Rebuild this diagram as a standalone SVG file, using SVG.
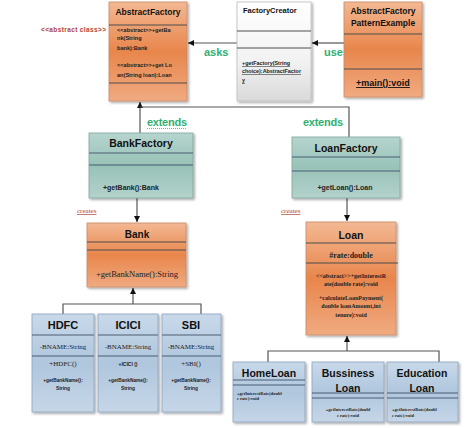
<svg xmlns="http://www.w3.org/2000/svg" width="474" height="428" viewBox="0 0 474 428">
<defs>
<linearGradient id="gOr" x1="0" y1="0" x2="0" y2="1">
<stop offset="0" stop-color="#f3b893"/><stop offset="0.5" stop-color="#e8864c"/><stop offset="1" stop-color="#f0aa80"/>
</linearGradient>
<linearGradient id="gWh" x1="0" y1="0" x2="0" y2="1">
<stop offset="0" stop-color="#ffffff"/><stop offset="0.6" stop-color="#f2f2f2"/><stop offset="1" stop-color="#d9d9d9"/>
</linearGradient>
<linearGradient id="gTe" x1="0" y1="0" x2="0" y2="1">
<stop offset="0" stop-color="#b6d5ce"/><stop offset="0.5" stop-color="#98c2b8"/><stop offset="1" stop-color="#b3d2cb"/>
</linearGradient>
<linearGradient id="gBl" x1="0" y1="0" x2="0" y2="1">
<stop offset="0" stop-color="#c9d9ea"/><stop offset="0.5" stop-color="#afc6dd"/><stop offset="1" stop-color="#c6d6e7"/>
</linearGradient>
<filter id="sh" x="-10%" y="-10%" width="125%" height="125%">
<feDropShadow dx="1.5" dy="1.5" stdDeviation="1.2" flood-color="#000" flood-opacity="0.35"/>
</filter>
<marker id="arr" viewBox="0 0 10 10" refX="10" refY="5" markerWidth="5" markerHeight="5" orient="auto-start-reverse">
<path d="M0,0 L10,5 L0,10 z" fill="#111"/>
</marker>
</defs>
<style>
.or{fill:url(#gOr);stroke:#c98a66;stroke-width:0.8;filter:url(#sh)}
.wh{fill:url(#gWh);stroke:#bdbdbd;stroke-width:0.8;filter:url(#sh)}
.te{fill:url(#gTe);stroke:#7fa59c;stroke-width:0.8;filter:url(#sh)}
.bl{fill:url(#gBl);stroke:#8aa3bd;stroke-width:0.8;filter:url(#sh)}
.dv{stroke:#4d4d4d;stroke-width:1}
.dvb{stroke:#4a5e72;stroke-width:1.2}
.t{font-family:"Liberation Sans",Arial,sans-serif;font-weight:bold;fill:#111}
.s{font-family:"Liberation Serif","Times New Roman",serif;fill:#222}
.m{font-family:"Liberation Sans",Arial,sans-serif;font-weight:bold;fill:#222}
.gr{font-family:"Liberation Sans",Arial,sans-serif;font-weight:bold;fill:#2fb071;font-size:11px}
.cr{font-family:"Liberation Serif","Times New Roman",serif;fill:#b0453a;font-size:7px;text-decoration:underline}
.ln{fill:none;stroke:#555;stroke-width:1.2}
</style>

<g id="labels">
<text x="41" y="32" font-size="6.5" class="t" fill="#b0453a" style="fill:#b0453a" textLength="65">&lt;&lt;abstract class&gt;&gt;</text>
<text x="204" y="56" class="gr">asks</text>
<text x="324" y="56" class="gr">uses</text>
<text x="147" y="126" class="gr" font-size="10.5" textLength="40">extends</text>
<line x1="147" y1="128.5" x2="187" y2="128.5" stroke="#2fb071" stroke-width="0.8" stroke-dasharray="1,1"/>
<text x="303" y="126" class="gr" font-size="10.5" textLength="40">extends</text>
<text x="77" y="213" class="cr">creates</text>
<text x="281" y="213" class="cr">creates</text>
</g>

<g id="connectors">
<line x1="237" y1="43" x2="188" y2="43" class="ln" stroke="#444" marker-end="url(#arr)"/>
<line x1="344" y1="43" x2="312" y2="43" class="ln" marker-end="url(#arr)"/>
<line x1="140" y1="133" x2="140" y2="102" class="ln" marker-end="url(#arr)"/>
<polyline points="140,107 349,107 349,137" class="ln"/>
<line x1="137" y1="198" x2="137" y2="222" class="ln" stroke="#222" marker-end="url(#arr)"/>
<line x1="347" y1="198" x2="347" y2="221" class="ln" stroke="#222" marker-end="url(#arr)"/>
<line x1="133" y1="304" x2="133" y2="288" class="ln" marker-end="url(#arr)"/>
<polyline points="63,314 63,304 201,304 201,314" class="ln"/>
<line x1="347" y1="351" x2="347" y2="336" class="ln" marker-end="url(#arr)"/>
<polyline points="268,362 268,351 439,351 439,362" class="ln"/>
</g>

<g id="AbstractFactory">
<rect x="109" y="2" width="78" height="99" class="or"/>
<line x1="109" y1="25" x2="187" y2="25" class="dv"/>
<line x1="109" y1="83" x2="187" y2="83" class="dv"/>
<text x="148" y="15" font-size="8.5" class="t" text-anchor="middle">AbstractFactory</text>
<g class="m" font-size="5.6">
<text x="117" y="32">&lt;&lt;abstract&gt;&gt;+getBa</text>
<text x="117" y="40">nk(String</text>
<text x="117" y="50">bank):Bank</text>
<text x="117" y="67">&lt;&lt;abstract&gt;&gt;+get Lo</text>
<text x="117" y="77">an(String loan):Loan</text>
</g>
</g>

<g id="FactoryCreator">
<rect x="237" y="2" width="74" height="99" class="wh"/>
<line x1="237" y1="31" x2="311" y2="31" class="dv"/>
<line x1="237" y1="48" x2="311" y2="48" class="dv"/>
<text x="243" y="13" font-size="7.5" class="t">FactoryCreator</text>
<g class="m" font-size="5.4" text-decoration="underline">
<text x="242" y="65">+getFactory(String</text>
<text x="242" y="73">choice):AbstractFactor</text>
<text x="242" y="82">y</text>
</g>
</g>

<g id="AbstractFactoryPatternExample">
<rect x="344" y="2" width="78" height="95" class="or"/>
<line x1="344" y1="34" x2="422" y2="34" class="dv"/>
<line x1="344" y1="69" x2="422" y2="69" class="dv"/>
<text x="383" y="14" font-size="8.5" class="t" text-anchor="middle">AbstractFactory</text>
<text x="383" y="26" font-size="8.5" class="t" text-anchor="middle">PatternExample</text>
<text x="383" y="86" font-size="9" class="t" text-anchor="middle" text-decoration="underline">+main():void</text>
</g>

<g id="BankFactory">
<rect x="89" y="133" width="104" height="65" class="te"/>
<line x1="89" y1="153" x2="193" y2="153" class="dvb"/>
<line x1="89" y1="165" x2="193" y2="165" class="dvb"/>
<text x="141" y="147" font-size="10.5" class="t" text-anchor="middle">BankFactory</text>
<text x="103" y="190" font-size="7" class="m">+getBank():Bank</text>
</g>

<g id="LoanFactory">
<rect x="292" y="137" width="108" height="61" class="te"/>
<line x1="292" y1="157" x2="400" y2="157" class="dvb"/>
<line x1="292" y1="171" x2="400" y2="171" class="dvb"/>
<text x="346" y="152" font-size="10.5" class="t" text-anchor="middle">LoanFactory</text>
<text x="345" y="190" font-size="7" class="m" text-anchor="middle">+getLoan():Loan</text>
</g>

<g id="Bank">
<rect x="87" y="223" width="99" height="64" class="or"/>
<line x1="87" y1="242" x2="186" y2="242" class="dv"/>
<line x1="87" y1="250" x2="186" y2="250" class="dv"/>
<text x="137" y="238" font-size="10" class="t" text-anchor="middle">Bank</text>
<text x="137" y="277" font-size="8.5" class="s" text-anchor="middle" textLength="82">+getBankName():String</text>
</g>

<g id="Loan">
<rect x="306" y="222" width="90" height="113" class="or"/>
<line x1="306" y1="243" x2="396" y2="243" class="dv"/>
<line x1="306" y1="263" x2="398" y2="263" class="dv"/>
<text x="351" y="239" font-size="10.5" class="t" text-anchor="middle">Loan</text>
<text x="351" y="258" font-size="8" class="s" text-anchor="middle" font-weight="bold">#rate:double</text>
<g class="s" font-size="6" font-weight="bold" text-anchor="middle">
<text x="351" y="278">&lt;&lt;abstract&gt;&gt;+getInterestR</text>
<text x="351" y="286">ate(double rate):void</text>
<text x="351" y="300">+calculateLoanPayment(</text>
<text x="351" y="308">double loanAmount,int</text>
<text x="351" y="317">tenure):void</text>
</g>
</g>

<g id="HDFC">
<rect x="32" y="314" width="62" height="98" class="bl"/>
<line x1="32" y1="335" x2="94" y2="335" class="dvb"/>
<line x1="32" y1="356" x2="94" y2="356" class="dvb"/>
<text x="63" y="329" font-size="11" class="t" text-anchor="middle">HDFC</text>
<text x="63" y="349" font-size="7" class="s" text-anchor="middle">-BNAME:String</text>
<text x="63" y="366" font-size="7" class="s" text-anchor="middle">+HDFC()</text>
<text x="63" y="382" font-size="4.8" class="m" text-anchor="middle">+getBankName():</text>
<text x="63" y="390" font-size="4.8" class="m" text-anchor="middle">String</text>
</g>

<g id="ICICI">
<rect x="98" y="314" width="60" height="98" class="bl"/>
<line x1="98" y1="335" x2="158" y2="335" class="dvb"/>
<line x1="98" y1="356" x2="158" y2="356" class="dvb"/>
<text x="128" y="329" font-size="11" class="t" text-anchor="middle">ICICI</text>
<text x="128" y="349" font-size="7" class="s" text-anchor="middle">-BNAME:String</text>
<text x="128" y="366" font-size="5" class="m" text-anchor="middle">+ICICI ()</text>
<text x="128" y="382" font-size="4.8" class="m" text-anchor="middle">+getBankName():</text>
<text x="128" y="390" font-size="4.8" class="m" text-anchor="middle">String</text>
</g>

<g id="SBI">
<rect x="162" y="314" width="59" height="98" class="bl"/>
<line x1="162" y1="335" x2="221" y2="335" class="dvb"/>
<line x1="162" y1="356" x2="221" y2="356" class="dvb"/>
<text x="191" y="329" font-size="11" class="t" text-anchor="middle">SBI</text>
<text x="191" y="349" font-size="7" class="s" text-anchor="middle">-BNAME:String</text>
<text x="191" y="366" font-size="7" class="s" text-anchor="middle">+SBI()</text>
<text x="191" y="382" font-size="4.8" class="m" text-anchor="middle">+getBankName():</text>
<text x="191" y="390" font-size="4.8" class="m" text-anchor="middle">String</text>
</g>

<g id="HomeLoan">
<rect x="233" y="362" width="72" height="60" class="bl"/>
<line x1="233" y1="380" x2="305" y2="380" class="dvb"/>
<line x1="233" y1="385" x2="305" y2="385" class="dvb"/>
<text x="269" y="377" font-size="10.5" class="t" text-anchor="middle">HomeLoan</text>
<text x="237" y="395" font-size="4.5" class="s" font-weight="bold">+getInterestRate(doubl</text>
<text x="237" y="400" font-size="4.5" class="s" font-weight="bold">e rate):void</text>
</g>

<g id="BussinessLoan">
<rect x="312" y="362" width="72" height="60" class="bl"/>
<line x1="312" y1="393" x2="384" y2="393" class="dvb"/>
<line x1="312" y1="398" x2="384" y2="398" class="dvb"/>
<text x="348" y="377" font-size="10.5" class="t" text-anchor="middle">Bussiness</text>
<text x="348" y="392" font-size="10.5" class="t" text-anchor="middle">Loan</text>
<text x="348" y="411" font-size="4.5" class="s" font-weight="bold" text-anchor="middle">+getInterestRate(doubl</text>
<text x="348" y="417" font-size="4.5" class="s" font-weight="bold" text-anchor="middle">e rate):void</text>
</g>

<g id="EducationLoan">
<rect x="387" y="362" width="71" height="60" class="bl"/>
<line x1="387" y1="393" x2="458" y2="393" class="dvb"/>
<line x1="387" y1="398" x2="458" y2="398" class="dvb"/>
<text x="422" y="377" font-size="10.5" class="t" text-anchor="middle">Education</text>
<text x="422" y="392" font-size="10.5" class="t" text-anchor="middle">Loan</text>
<text x="392" y="411" font-size="4.5" class="s" font-weight="bold">+getInterestRate(doubl</text>
<text x="392" y="417" font-size="4.5" class="s" font-weight="bold">e rate):void</text>
</g>
</svg>
